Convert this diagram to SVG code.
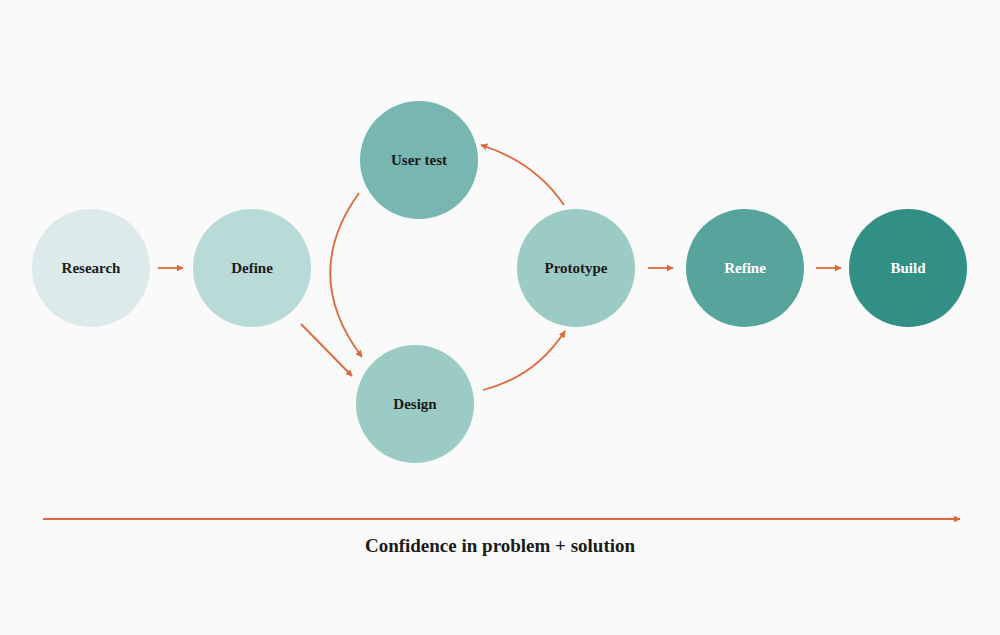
<svg xmlns="http://www.w3.org/2000/svg" width="1000" height="635" viewBox="0 0 1000 635">
<style>
text{font-family:"Liberation Serif",serif;font-weight:bold;font-size:15px;text-anchor:middle;fill:#1a1a1a}
.w{fill:#ffffff}
.c{fill:none;stroke:#e0683a;stroke-width:1.8}
</style>
<defs><marker id="a" viewBox="0 0 10 10" refX="9" refY="5" markerWidth="7" markerHeight="7" orient="auto" markerUnits="userSpaceOnUse"><path d="M0,0L10,5L0,10z" fill="#e0683a"/></marker></defs>
<rect width="1000" height="635" fill="#fafafa"/>
<g id="research"><circle cx="91" cy="268" r="59" fill="#dcebe9"/><text x="91" y="273">Research</text></g>
<g id="define"><circle cx="252" cy="268" r="59" fill="#b9dbd7"/><text x="252" y="273">Define</text></g>
<g id="usertest"><circle cx="419" cy="160" r="59" fill="#78b7b1"/><text x="419" y="165">User test</text></g>
<g id="design"><circle cx="415" cy="404" r="59" fill="#9ccac5"/><text x="415" y="409">Design</text></g>
<g id="prototype"><circle cx="576" cy="268" r="59" fill="#9ccac5"/><text x="576" y="273">Prototype</text></g>
<g id="refine"><circle cx="745" cy="268" r="59" fill="#57a49d"/><text class="w" x="745" y="273">Refine</text></g>
<g id="build"><circle cx="908" cy="268" r="59" fill="#318f85"/><text class="w" x="908" y="273">Build</text></g>
<g id="connectors">
<path class="c" d="M158,268H183" marker-end="url(#a)"/>
<path class="c" d="M648,268H673" marker-end="url(#a)"/>
<path class="c" d="M816,268H841" marker-end="url(#a)"/>
<path class="c" d="M301,324L352,376" marker-end="url(#a)"/>
<path class="c" d="M359,193Q300,275 362,357" marker-end="url(#a)"/>
<path class="c" d="M483,390Q535,377 565,331" marker-end="url(#a)"/>
<path class="c" d="M564,205Q535,162 481,145" marker-end="url(#a)"/>
<path class="c" d="M43,519H960" stroke-width="1.5" marker-end="url(#a)"/>
</g>
<text x="500" y="552" style="font-size:19px">Confidence in problem + solution</text>
</svg>
